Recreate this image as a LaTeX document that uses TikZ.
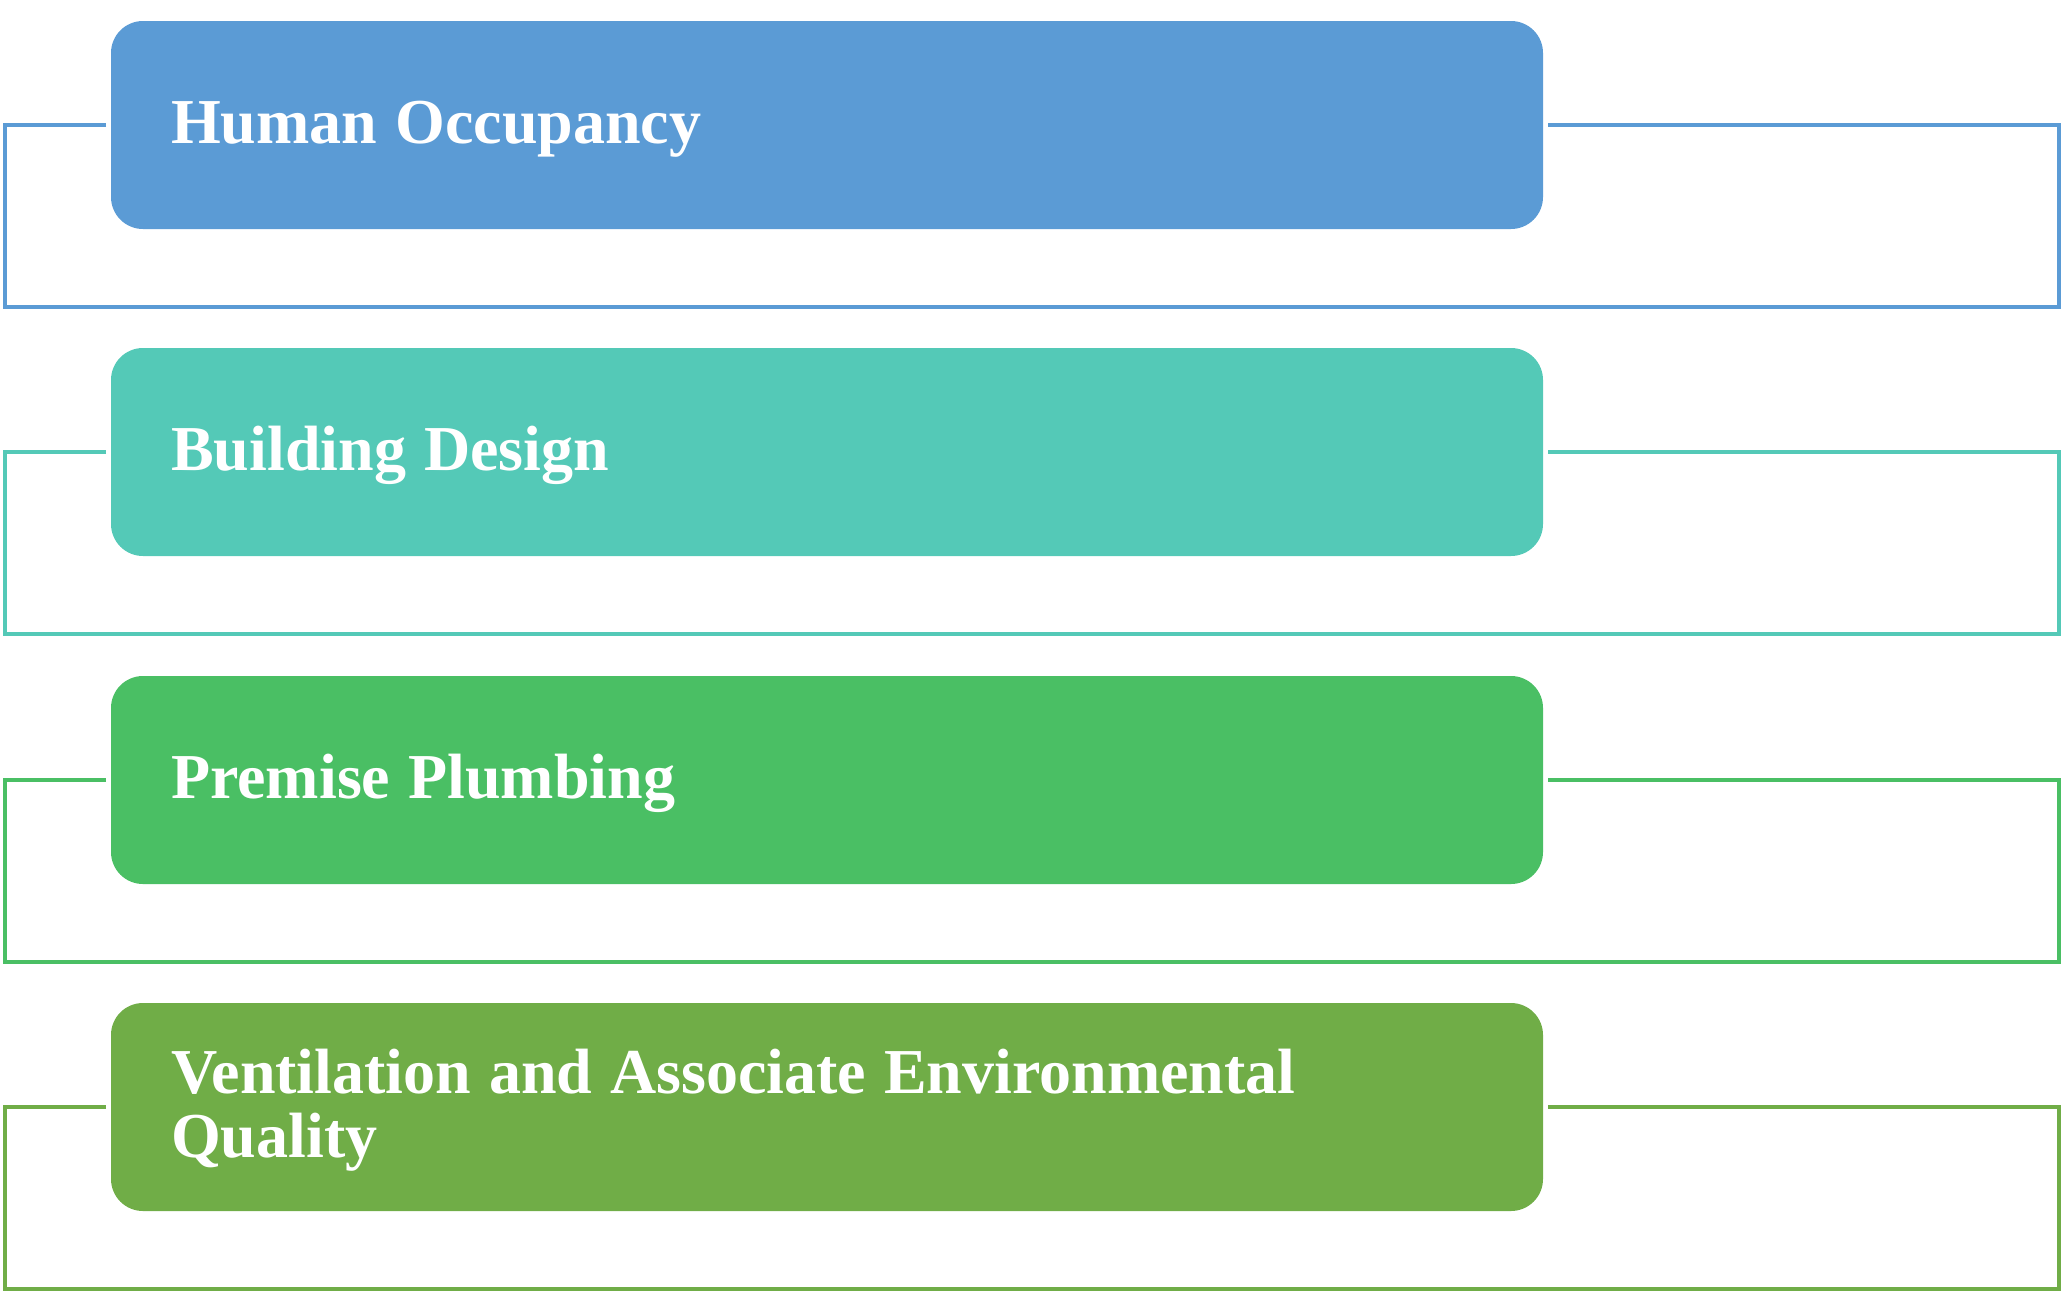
\documentclass[tikz,border=0pt]{standalone}
\usepackage{fontspec}
\setmainfont{Liberation Serif}
\newcommand\tightspaces{\spaceskip=18pt plus 2pt minus 2pt\relax}
\definecolor{cA}{HTML}{5B9BD5}
\definecolor{cB}{HTML}{54C9B7}
\definecolor{cC}{HTML}{4ABF64}
\definecolor{cD}{HTML}{70AD47}
\tikzset{
  stagebox/.style={rounded corners=32pt, minimum width=1432pt, minimum height=208pt,
    inner sep=0pt, outer sep=0pt, anchor=north west},
  stagelabel/.style={text=white, font=\bfseries\fontsize{64}{64}\selectfont,
    text width=1300pt, align=left, inner sep=0pt, anchor=base west},
  bracket/.style={line width=4.5pt, line join=miter}
}
\begin{document}
\begin{tikzpicture}[x=1pt,y=-1pt]
\useasboundingbox (0,0) rectangle (2067,1315);
% boxes
\node[stagebox, fill=cA] (b1) at (111,21) {};
\node[stagebox, fill=cB] (b2) at (111,348) {};
\node[stagebox, fill=cC] (b3) at (111,676) {};
\node[stagebox, fill=cD] (b4) at (111,1003) {};
% labels
\node[stagelabel] (t1) at (171,143) {\tightspaces Human Occupancy};
\node[stagelabel] (t2) at (171,470) {\tightspaces Building Design};
\node[stagelabel] (t3) at (171,798) {\tightspaces Premise Plumbing};
\node[stagelabel] (t4) at (171,1093) {\tightspaces Ventilation and Associate Environmental\\Quality};
% brackets
\draw[bracket, draw=cA] ([xshift=-5pt]b1.west) -- (5,125) -- (5,307) -- (2059,307) -- (2059,125) -- ([xshift=5pt]b1.east);
\draw[bracket, draw=cB] ([xshift=-5pt]b2.west) -- (5,452) -- (5,634) -- (2059,634) -- (2059,452) -- ([xshift=5pt]b2.east);
\draw[bracket, draw=cC] ([xshift=-5pt]b3.west) -- (5,780) -- (5,962) -- (2059,962) -- (2059,780) -- ([xshift=5pt]b3.east);
\draw[bracket, draw=cD] ([xshift=-5pt]b4.west) -- (5,1107) -- (5,1289) -- (2059,1289) -- (2059,1107) -- ([xshift=5pt]b4.east);
\end{tikzpicture}
\end{document}
